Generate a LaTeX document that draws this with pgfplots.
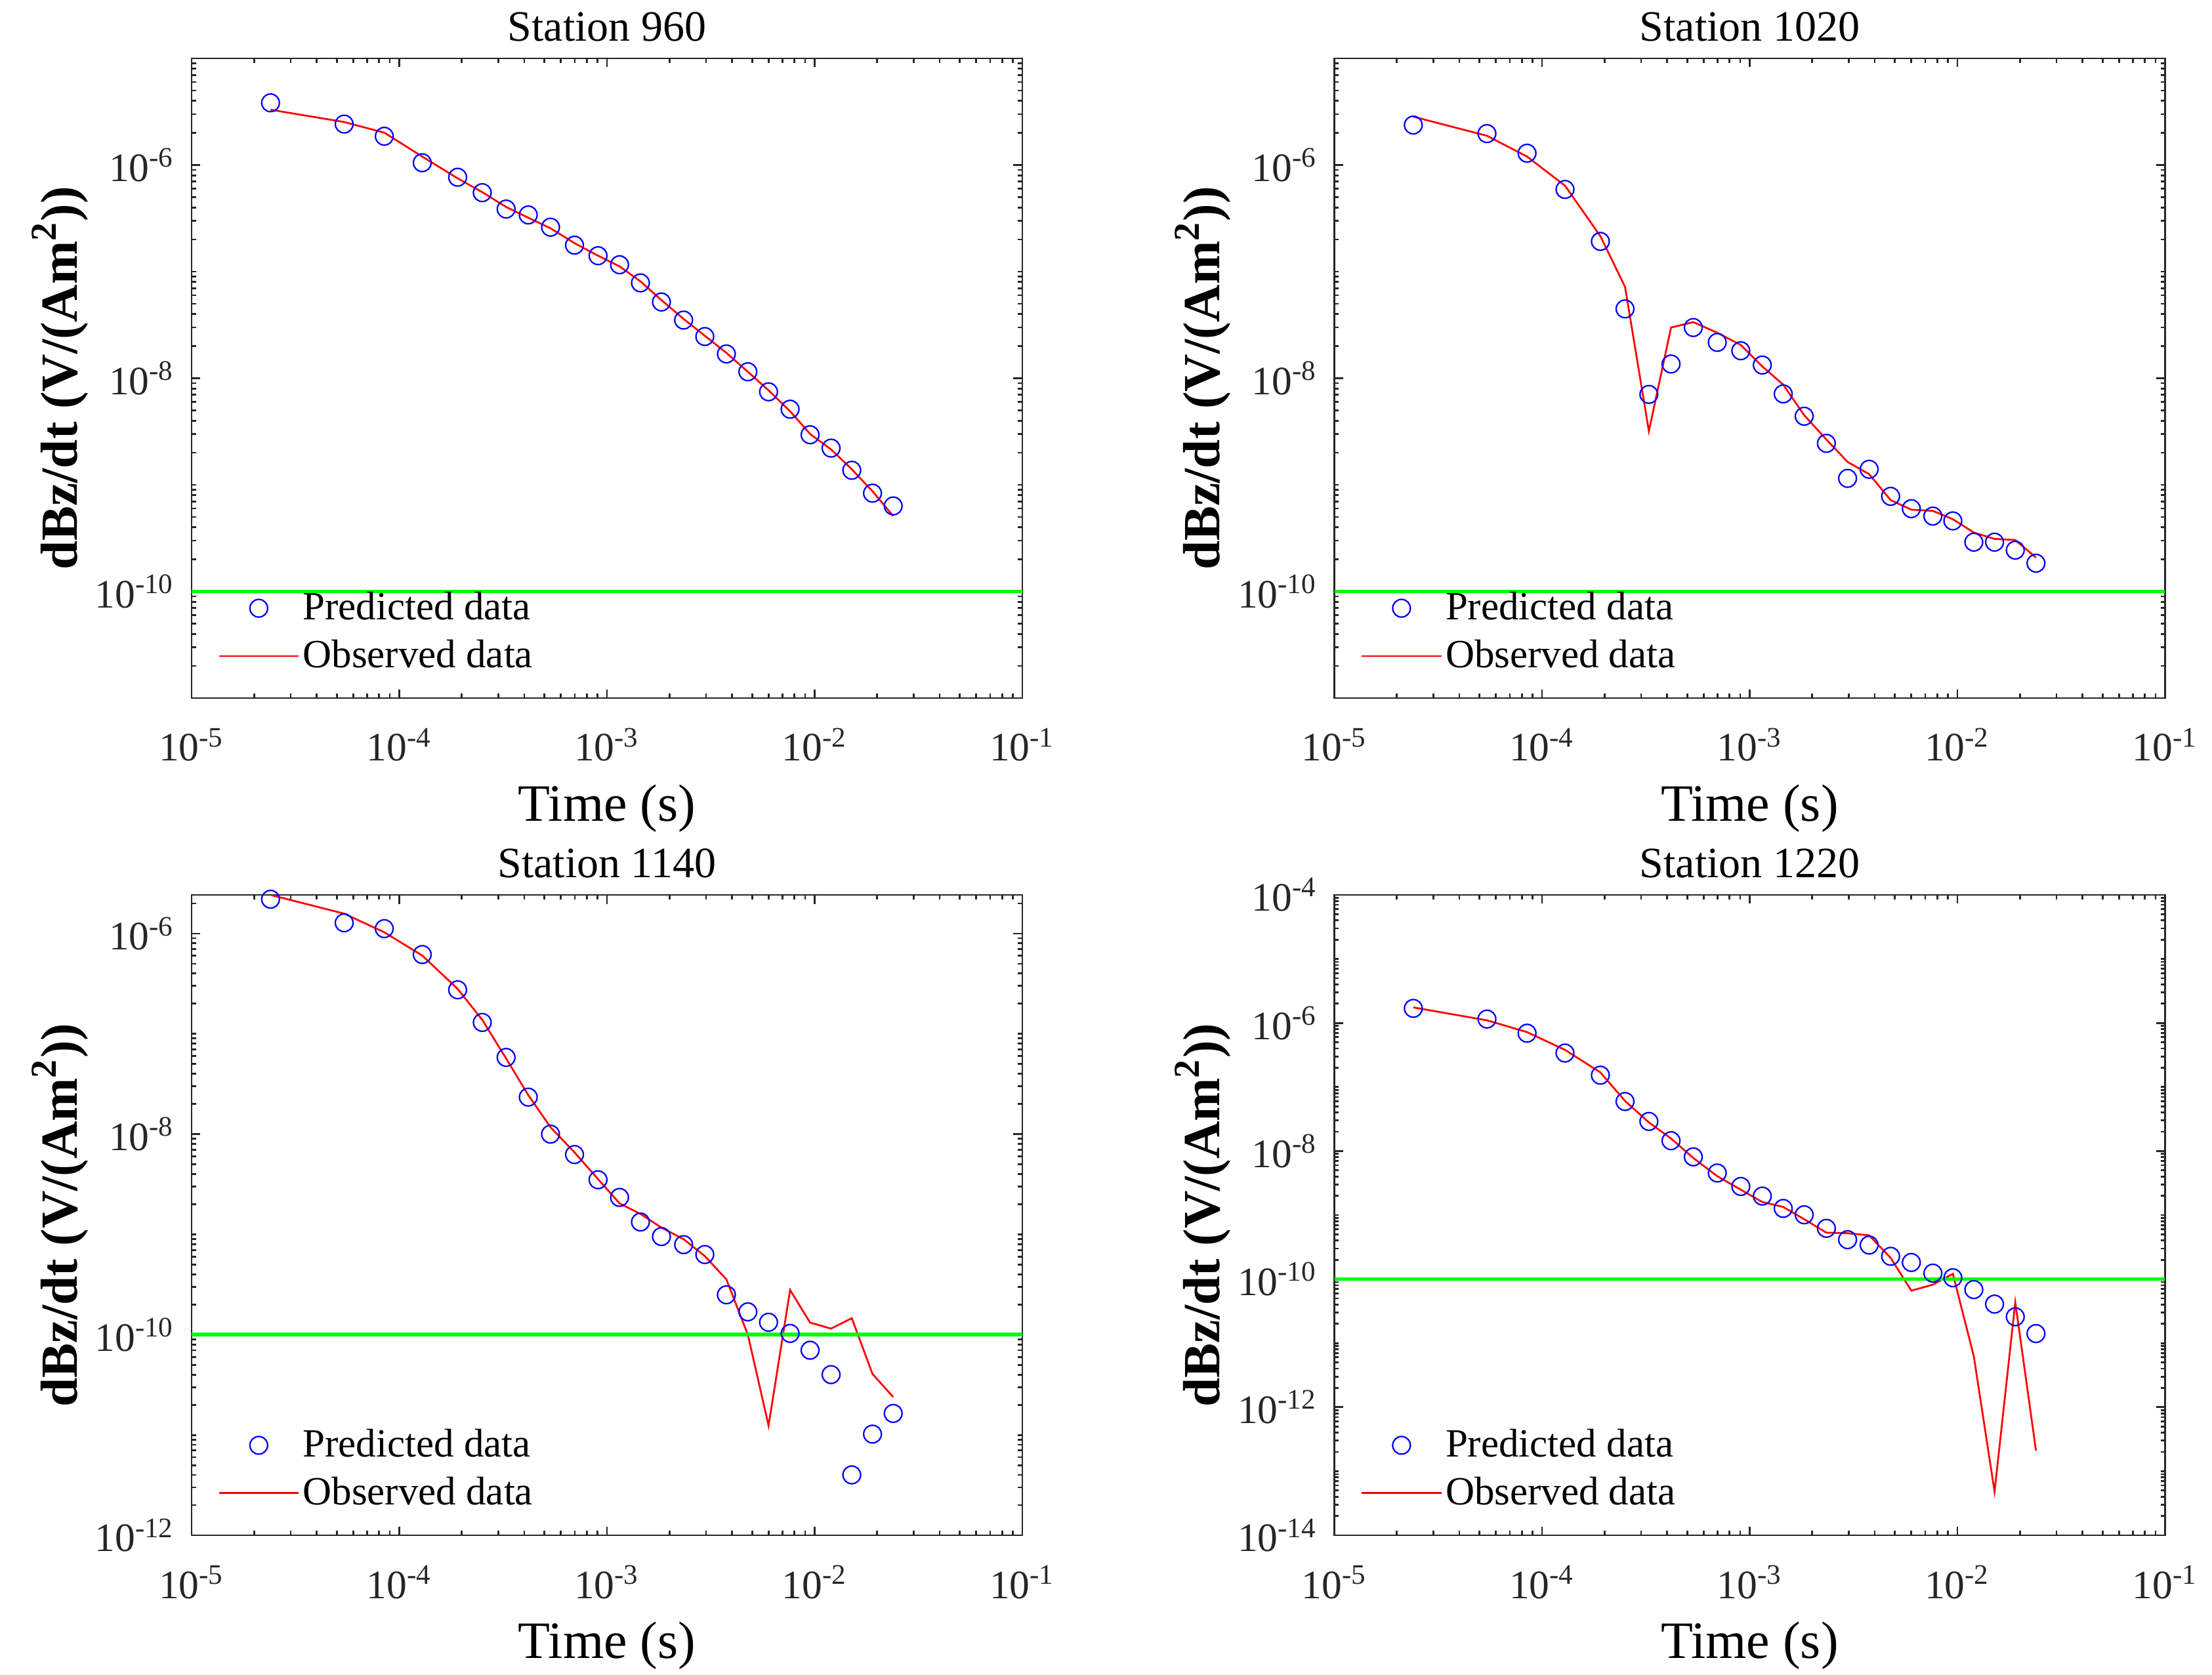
\documentclass[border=0pt]{standalone}
\usepackage{fontspec}
\setmainfont{Liberation Serif}
\usepackage{pgfplots}
\usepackage{pgfplotstable}
\pgfplotsset{compat=1.18}
\definecolor{axgray}{rgb}{0.15,0.15,0.15}
\definecolor{pgreen}{rgb}{0,1,0}

\pgfplotstableread{
x p o
2.40e-5 3.83e-6 3.30e-6
5.43e-5 2.42e-6 2.53e-6
8.47e-5 1.86e-6 2.01e-6
1.29e-4 1.05e-6 1.20e-6
1.91e-4 7.68e-7 7.5e-7
2.51e-4 5.50e-7 5.56e-7
3.27e-4 3.86e-7 4.04e-7
4.18e-4 3.40e-7 3.2e-7
5.35e-4 2.61e-7 2.55e-7
6.98e-4 1.77e-7 1.85e-7
9.06e-4 1.41e-7 1.41e-7
1.15e-3 1.16e-7 1.12e-7
1.45e-3 7.84e-8 8.1e-8
1.83e-3 5.19e-8 5.4e-8
2.34e-3 3.51e-8 3.6e-8
2.96e-3 2.46e-8 2.5e-8
3.76e-3 1.69e-8 1.73e-8
4.77e-3 1.15e-8 1.15e-8
6.00e-3 7.46e-9 7.7e-9
7.62e-3 5.12e-9 4.9e-9
9.51e-3 2.95e-9 3.0e-9
1.20e-2 2.21e-9 2.15e-9
1.51e-2 1.37e-9 1.4e-9
1.90e-2 8.35e-10 8.7e-10
2.39e-2 6.34e-10 5.1e-10
}\tblA

\pgfplotstableread{
x p o
2.40e-5 2.37e-6 2.84e-6
5.43e-5 1.97e-6 1.88e-6
8.47e-5 1.29e-6 1.2e-6
1.29e-4 5.90e-7 6.4e-7
1.91e-4 1.92e-7 2.15e-7
2.51e-4 4.47e-8 7.2e-8
3.27e-4 7.05e-9 3.19e-9
4.18e-4 1.36e-8 2.99e-8
5.35e-4 2.99e-8 3.36e-8
6.98e-4 2.17e-8 2.67e-8
9.06e-4 1.81e-8 2.05e-8
1.15e-3 1.33e-8 1.29e-8
1.45e-3 7.13e-9 8.7e-9
1.83e-3 4.40e-9 4.5e-9
2.34e-3 2.45e-9 2.66e-9
2.96e-3 1.15e-9 1.64e-9
3.76e-3 1.40e-9 1.26e-9
4.77e-3 7.80e-10 7.2e-10
6.00e-3 5.98e-10 5.85e-10
7.62e-3 5.09e-10 5.7e-10
9.51e-3 4.59e-10 4.76e-10
1.20e-2 2.90e-10 3.57e-10
1.51e-2 2.90e-10 3.11e-10
1.90e-2 2.44e-10 3.04e-10
2.39e-2 1.84e-10 2.08e-10
}\tblB

\pgfplotstableread{
x p o
2.40e-5 2.20e-6 2.43e-6
5.43e-5 1.28e-6 1.58e-6
8.47e-5 1.12e-6 1.03e-6
1.29e-4 6.18e-7 6.04e-7
1.91e-4 2.75e-7 2.81e-7
2.51e-4 1.30e-7 1.38e-7
3.27e-4 5.82e-8 5.68e-8
4.18e-4 2.34e-8 2.45e-8
5.35e-4 1.0e-8 1.17e-8
6.98e-4 6.26e-9 6.58e-9
9.06e-4 3.51e-9 3.56e-9
1.15e-3 2.34e-9 2.04e-9
1.45e-3 1.33e-9 1.60e-9
1.83e-3 9.52e-10 1.17e-9
2.34e-3 7.91e-10 8.96e-10
2.96e-3 6.3e-10 6.08e-10
3.76e-3 2.5e-10 3.56e-10
4.77e-3 1.69e-10 1.0e-10
6.00e-3 1.33e-10 1.24e-11
7.62e-3 1.03e-10 2.79e-10
9.51e-3 7.0e-11 1.32e-10
1.20e-2 4.0e-11 1.15e-10
1.51e-2 4.0e-12 1.46e-10
1.90e-2 1.02e-11 4.06e-11
2.39e-2 1.64e-11 2.39e-11
}\tblC

\pgfplotstableread{
x p o
2.40e-5 1.69e-6 1.75e-6
5.43e-5 1.15e-6 1.10e-6
8.47e-5 6.92e-7 7.2e-7
1.29e-4 3.39e-7 3.80e-7
1.91e-4 1.53e-7 1.69e-7
2.51e-4 5.94e-8 6.06e-8
3.27e-4 2.90e-8 2.80e-8
4.18e-4 1.45e-8 1.57e-8
5.35e-4 8.11e-9 7.8e-9
6.98e-4 4.54e-9 4.05e-9
9.06e-4 2.80e-9 2.49e-9
1.15e-3 1.98e-9 1.60e-9
1.45e-3 1.27e-9 1.34e-9
1.83e-3 1.01e-9 8.61e-10
2.34e-3 6.21e-10 5.31e-10
2.96e-3 4.13e-10 5.21e-10
3.76e-3 3.40e-10 4.82e-10
4.77e-3 2.27e-10 2.15e-10
6.00e-3 1.82e-10 6.6e-11
7.62e-3 1.24e-10 8.2e-11
9.51e-3 1.05e-10 1.21e-10
1.20e-2 6.86e-11 6.2e-12
1.51e-2 4.07e-11 4.8e-14
1.90e-2 2.58e-11 4.35e-11
2.39e-2 1.41e-11 2.1e-13
}\tblD

\pgfplotsset{
  every axis/.append style={
    scale only axis, width=253.2pt, height=195pt,
    tick align=inside, major tick length=2.7pt, minor tick length=1.4pt,
    axis line style={axgray, line width=0.55pt},
    xtick style={axgray, line width=0.55pt},
    ytick style={axgray, line width=0.55pt},
    ticklabel style={font=\fontsize{12.3}{14}\selectfont, text=axgray},
    xticklabel style={anchor=base, yshift=-19.2pt, inner sep=0pt},
    yticklabel style={anchor=east, xshift=-5pt, inner sep=0pt},
    xlabel style={at={(axis description cs:0.5,-0.1923)}, anchor=base, inner sep=0pt, font=\fontsize{16}{18}\selectfont},
    ylabel style={at={(axis description cs:-0.138,0.5)}, anchor=base, inner sep=0pt, font=\bfseries\fontsize{15.9}{18}\selectfont},
    every axis title shift=0pt,
    title style={at={(axis description cs:0.5,1.0267)}, anchor=base, inner sep=0pt, font=\fontsize{13.2}{15}\selectfont},
    legend cell align=left,
    legend style={draw=none, fill=none, at={(0.031,0.167)}, anchor=north west,
      inner sep=0pt, row sep=4.6pt, column sep=1.0pt,
      nodes={inner sep=0pt, font=\fontsize{12.2}{14}\selectfont}},
  },
}

\begin{document}
\begin{tikzpicture}
\path[use as bounding box] (0,0) rectangle (674.2pt,510.6pt);

\begin{axis}[at={(58.4pt,297.8pt)}, anchor=south west,
  xmode=log, ymode=log, xmin=1e-5, xmax=1e-1,
  xtick={1e-5,1e-4,1e-3,1e-2,1e-1},
  xticklabels={10\textsuperscript{-5},10\textsuperscript{-4},10\textsuperscript{-3},10\textsuperscript{-2},10\textsuperscript{-1}},
  minor xtick={2e-5,3e-5,4e-5,5e-5,6e-5,7e-5,8e-5,9e-5,2e-4,3e-4,4e-4,5e-4,6e-4,7e-4,8e-4,9e-4,2e-3,3e-3,4e-3,5e-3,6e-3,7e-3,8e-3,9e-3,2e-2,3e-2,4e-2,5e-2,6e-2,7e-2,8e-2,9e-2},
  ymin=1e-11, ymax=1e-5, ytick={1e-10,1e-8,1e-6},
  yticklabels={10\textsuperscript{-10},10\textsuperscript{-8},10\textsuperscript{-6}},
  minor ytick={2e-11,3e-11,4e-11,5e-11,6e-11,7e-11,8e-11,9e-11,2e-10,3e-10,4e-10,5e-10,6e-10,7e-10,8e-10,9e-10,1e-9,2e-9,3e-9,4e-9,5e-9,6e-9,7e-9,8e-9,9e-9,2e-8,3e-8,4e-8,5e-8,6e-8,7e-8,8e-8,9e-8,1e-7,2e-7,3e-7,4e-7,5e-7,6e-7,7e-7,8e-7,9e-7,2e-6,3e-6,4e-6,5e-6,6e-6,7e-6,8e-6,9e-6},
  xlabel={Time (s)}, ylabel={dBz/dt (V/(Am\textsuperscript{2}))},
  title={Station 960}]
\addplot[blue, mark=o, only marks, mark size=2.7pt, line width=0.45pt,
  legend image code/.code={\path[draw=none,fill=none] (0pt,0pt) -- (24.3pt,0pt); \path[draw=none,fill=none] plot[blue, line width=0.45pt, only marks, mark=o, mark size=2.7pt] coordinates {(12.15pt,0pt)};}]
  table[x=x,y=p] {\tblA};
\addlegendentry{Predicted data}
\addplot[red, line width=0.55pt, legend image code/.code={\draw[red, line width=0.55pt] (0pt,0pt) -- (24.3pt,0pt);}]
  table[x=x,y=o] {\tblA};
\addlegendentry{Observed data}
\addplot[pgreen, line width=1.15pt, forget plot] coordinates {(1e-5,1e-10) (1e-1,1e-10)};
\end{axis}

\begin{axis}[at={(406.7pt,297.8pt)}, anchor=south west,
  xmode=log, ymode=log, xmin=1e-5, xmax=1e-1,
  xtick={1e-5,1e-4,1e-3,1e-2,1e-1},
  xticklabels={10\textsuperscript{-5},10\textsuperscript{-4},10\textsuperscript{-3},10\textsuperscript{-2},10\textsuperscript{-1}},
  minor xtick={2e-5,3e-5,4e-5,5e-5,6e-5,7e-5,8e-5,9e-5,2e-4,3e-4,4e-4,5e-4,6e-4,7e-4,8e-4,9e-4,2e-3,3e-3,4e-3,5e-3,6e-3,7e-3,8e-3,9e-3,2e-2,3e-2,4e-2,5e-2,6e-2,7e-2,8e-2,9e-2},
  ymin=1e-11, ymax=1e-5, ytick={1e-10,1e-8,1e-6},
  yticklabels={10\textsuperscript{-10},10\textsuperscript{-8},10\textsuperscript{-6}},
  minor ytick={2e-11,3e-11,4e-11,5e-11,6e-11,7e-11,8e-11,9e-11,2e-10,3e-10,4e-10,5e-10,6e-10,7e-10,8e-10,9e-10,1e-9,2e-9,3e-9,4e-9,5e-9,6e-9,7e-9,8e-9,9e-9,2e-8,3e-8,4e-8,5e-8,6e-8,7e-8,8e-8,9e-8,1e-7,2e-7,3e-7,4e-7,5e-7,6e-7,7e-7,8e-7,9e-7,2e-6,3e-6,4e-6,5e-6,6e-6,7e-6,8e-6,9e-6},
  xlabel={Time (s)}, ylabel={dBz/dt (V/(Am\textsuperscript{2}))},
  title={Station 1020}]
\addplot[blue, mark=o, only marks, mark size=2.7pt, line width=0.45pt,
  legend image code/.code={\path[draw=none,fill=none] (0pt,0pt) -- (24.3pt,0pt); \path[draw=none,fill=none] plot[blue, line width=0.45pt, only marks, mark=o, mark size=2.7pt] coordinates {(12.15pt,0pt)};}]
  table[x=x,y=p] {\tblB};
\addlegendentry{Predicted data}
\addplot[red, line width=0.55pt, legend image code/.code={\draw[red, line width=0.55pt] (0pt,0pt) -- (24.3pt,0pt);}]
  table[x=x,y=o] {\tblB};
\addlegendentry{Observed data}
\addplot[pgreen, line width=1.15pt, forget plot] coordinates {(1e-5,1e-10) (1e-1,1e-10)};
\end{axis}

\begin{axis}[at={(58.4pt,42.6pt)}, anchor=south west, height=195.2pt,
  xmode=log, ymode=log, xmin=1e-5, xmax=1e-1,
  xtick={1e-5,1e-4,1e-3,1e-2,1e-1},
  xticklabels={10\textsuperscript{-5},10\textsuperscript{-4},10\textsuperscript{-3},10\textsuperscript{-2},10\textsuperscript{-1}},
  minor xtick={2e-5,3e-5,4e-5,5e-5,6e-5,7e-5,8e-5,9e-5,2e-4,3e-4,4e-4,5e-4,6e-4,7e-4,8e-4,9e-4,2e-3,3e-3,4e-3,5e-3,6e-3,7e-3,8e-3,9e-3,2e-2,3e-2,4e-2,5e-2,6e-2,7e-2,8e-2,9e-2},
  ymin=1e-12, ymax=2.43e-6, ytick={1e-12,1e-10,1e-8,1e-6},
  yticklabels={10\textsuperscript{-12},10\textsuperscript{-10},10\textsuperscript{-8},10\textsuperscript{-6}},
  minor ytick={2e-12,3e-12,4e-12,5e-12,6e-12,7e-12,8e-12,9e-12,1e-11,2e-11,3e-11,4e-11,5e-11,6e-11,7e-11,8e-11,9e-11,2e-10,3e-10,4e-10,5e-10,6e-10,7e-10,8e-10,9e-10,1e-9,2e-9,3e-9,4e-9,5e-9,6e-9,7e-9,8e-9,9e-9,2e-8,3e-8,4e-8,5e-8,6e-8,7e-8,8e-8,9e-8,1e-7,2e-7,3e-7,4e-7,5e-7,6e-7,7e-7,8e-7,9e-7,2e-6},
  xlabel={Time (s)}, ylabel={dBz/dt (V/(Am\textsuperscript{2}))},
  title={Station 1140}]
\addplot[blue, mark=o, only marks, mark size=2.7pt, line width=0.45pt,
  legend image code/.code={\path[draw=none,fill=none] (0pt,0pt) -- (24.3pt,0pt); \path[draw=none,fill=none] plot[blue, line width=0.45pt, only marks, mark=o, mark size=2.7pt] coordinates {(12.15pt,0pt)};}]
  table[x=x,y=p] {\tblC};
\addlegendentry{Predicted data}
\addplot[red, line width=0.55pt, legend image code/.code={\draw[red, line width=0.55pt] (0pt,0pt) -- (24.3pt,0pt);}]
  table[x=x,y=o] {\tblC};
\addlegendentry{Observed data}
\addplot[pgreen, line width=1.15pt, forget plot] coordinates {(1e-5,1e-10) (1e-1,1e-10)};
\end{axis}

\begin{axis}[at={(406.7pt,42.6pt)}, anchor=south west, height=195.2pt,
  xmode=log, ymode=log, xmin=1e-5, xmax=1e-1,
  xtick={1e-5,1e-4,1e-3,1e-2,1e-1},
  xticklabels={10\textsuperscript{-5},10\textsuperscript{-4},10\textsuperscript{-3},10\textsuperscript{-2},10\textsuperscript{-1}},
  minor xtick={2e-5,3e-5,4e-5,5e-5,6e-5,7e-5,8e-5,9e-5,2e-4,3e-4,4e-4,5e-4,6e-4,7e-4,8e-4,9e-4,2e-3,3e-3,4e-3,5e-3,6e-3,7e-3,8e-3,9e-3,2e-2,3e-2,4e-2,5e-2,6e-2,7e-2,8e-2,9e-2},
  ymin=1e-14, ymax=1e-4, ytick={1e-14,1e-12,1e-10,1e-8,1e-6,1e-4},
  yticklabels={10\textsuperscript{-14},10\textsuperscript{-12},10\textsuperscript{-10},10\textsuperscript{-8},10\textsuperscript{-6},10\textsuperscript{-4}},
  minor ytick={2e-14,3e-14,4e-14,5e-14,6e-14,7e-14,8e-14,9e-14,1e-13,2e-13,3e-13,4e-13,5e-13,6e-13,7e-13,8e-13,9e-13,2e-12,3e-12,4e-12,5e-12,6e-12,7e-12,8e-12,9e-12,1e-11,2e-11,3e-11,4e-11,5e-11,6e-11,7e-11,8e-11,9e-11,2e-10,3e-10,4e-10,5e-10,6e-10,7e-10,8e-10,9e-10,1e-9,2e-9,3e-9,4e-9,5e-9,6e-9,7e-9,8e-9,9e-9,2e-8,3e-8,4e-8,5e-8,6e-8,7e-8,8e-8,9e-8,1e-7,2e-7,3e-7,4e-7,5e-7,6e-7,7e-7,8e-7,9e-7,2e-6,3e-6,4e-6,5e-6,6e-6,7e-6,8e-6,9e-6,1e-5,2e-5,3e-5,4e-5,5e-5,6e-5,7e-5,8e-5,9e-5},
  xlabel={Time (s)}, ylabel={dBz/dt (V/(Am\textsuperscript{2}))},
  title={Station 1220}]
\addplot[blue, mark=o, only marks, mark size=2.7pt, line width=0.45pt,
  legend image code/.code={\path[draw=none,fill=none] (0pt,0pt) -- (24.3pt,0pt); \path[draw=none,fill=none] plot[blue, line width=0.45pt, only marks, mark=o, mark size=2.7pt] coordinates {(12.15pt,0pt)};}]
  table[x=x,y=p] {\tblD};
\addlegendentry{Predicted data}
\addplot[red, line width=0.55pt, legend image code/.code={\draw[red, line width=0.55pt] (0pt,0pt) -- (24.3pt,0pt);}]
  table[x=x,y=o] {\tblD};
\addlegendentry{Observed data}
\addplot[pgreen, line width=1.15pt, forget plot] coordinates {(1e-5,1e-10) (1e-1,1e-10)};
\end{axis}
\end{tikzpicture}
\end{document}
